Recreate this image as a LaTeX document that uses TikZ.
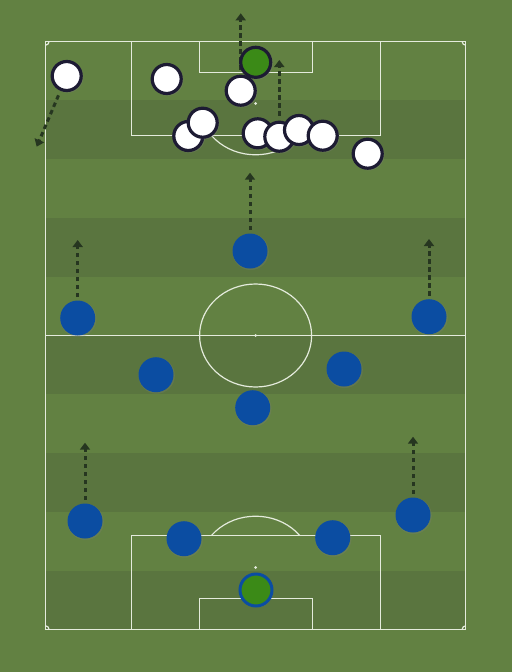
\documentclass[tikz,border=0pt]{standalone}
\usetikzlibrary{arrows.meta,shadows}

\definecolor{grass}{HTML}{628142}
\definecolor{grassdark}{HTML}{5A753F}
\definecolor{chalk}{HTML}{E4EBDC}
\definecolor{runcol}{HTML}{263620}
\definecolor{kitblue}{HTML}{0B4DA2}
\definecolor{kitnavy}{HTML}{1D1B33}
\definecolor{keepergreen}{HTML}{3B8A17}

\pgfdeclarelayer{field}
\pgfdeclarelayer{runs}
\pgfsetlayers{field,runs,main}

\tikzset{
  line/.style={draw=chalk,line width=1.2pt},
  whiteplayer/.style={circle,inner sep=0pt,minimum size=29pt,fill=white,
    draw=kitnavy,line width=3.2pt,
    drop shadow={opacity=0.3,shadow xshift=1pt,shadow yshift=-1pt,shadow scale=1.08}},
  whitekeeper/.style={whiteplayer,minimum size=30pt,fill=keepergreen},
  blueplayer/.style={circle,inner sep=0pt,minimum size=35pt,fill=kitblue,
    drop shadow={opacity=0.25,shadow xshift=0.6pt,shadow yshift=-0.8pt,shadow scale=1.04}},
  bluekeeper/.style={blueplayer,minimum size=32pt,fill=keepergreen,draw=kitblue,line width=3pt},
  run/.style={draw=runcol,line width=3pt,dash pattern=on 4.5pt off 3.5pt,
    shorten <=21pt,-{Triangle[length=7pt,width=10pt]}}
}

\begin{document}
\begin{tikzpicture}[x=1pt,y=-1pt]
  \useasboundingbox (0,0) rectangle (512,672);
  \begin{pgfonlayer}{field}
    % grass and stripes
    \fill[grass] (0,0) rectangle (512,672);
    \foreach \i in {1,3,5,7,9} {
      \fill[grassdark] (45.5,{41.7+\i*58.76}) rectangle (465.7,{41.7+(\i+1)*58.76});
    }
    % touch lines and halfway line
    \draw[line] (45.5,41.7) rectangle (465.7,629.3);
    \draw[line] (45.5,335.5) -- (465.7,335.5);
    \draw[line] (255.6,335.5) ellipse (56 and 51.5);
    \fill[chalk] (255.6,335.5) circle (1.5);
    % corners
    \begin{scope}
      \clip (45.5,41.7) rectangle (465.7,629.3);
      \foreach \cx/\cy in {45.5/41.7,465.7/41.7,45.5/629.3,465.7/629.3} {
        \draw[line] (\cx,\cy) circle (3.5);
      }
    \end{scope}
    % top boxes
    \draw[line] (131.3,41.7) rectangle (380.7,135.3);
    \draw[line] (199.3,41.7) rectangle (312.3,72.7);
    \fill[chalk] (255.6,103.5) circle (1.5);
    \begin{scope}
      \clip (0,135.3) rectangle (512,300);
      \draw[line] (255.6,103.5) ellipse (56.5 and 51.3);
    \end{scope}
    % bottom boxes
    \draw[line] (131.3,535.7) rectangle (380.7,629.3);
    \draw[line] (199.3,598.3) rectangle (312.3,629.3);
    \fill[chalk] (255.6,567.5) circle (1.5);
    \begin{scope}
      \clip (0,400) rectangle (512,535.7);
      \draw[line] (255.6,567.5) ellipse (56.5 and 51.3);
    \end{scope}
  \end{pgfonlayer}

  % white team
  \node[whitekeeper] (wGK) at (255.7,62.3) {};
  \foreach \n/\x/\y in {1/66.7/76,2/166.7/79,3/240.7/90.7,4/188.3/136,5/202.7/122.7,
      6/257.7/133.3,7/279.3/136.7,8/299/130,9/322.7/135.7,10/367.7/153.7} {
    \node[whiteplayer] (w\n) at (\x,\y) {};
  }
  % blue team
  \node[bluekeeper] (bGK) at (256,590) {};
  \foreach \n/\x/\y in {1/250/251,2/77.7/318,3/429/316.7,4/156/374.7,5/344/369,
      6/252.7/407.7,7/85/521,8/184/538.7,9/332.7/537.7,10/413/515} {
    \node[blueplayer] (b\n) at (\x,\y) {};
  }

  % runs
  \coordinate (tA) at (36.7,146.7);
  \coordinate (tB) at (240.7,13.3);
  \coordinate (tC) at (279.3,60);
  \coordinate (tD) at (250,172.7);
  \coordinate (tE) at (77.7,240);
  \coordinate (tF) at (429,239);
  \coordinate (tG) at (85,442.7);
  \coordinate (tH) at (413,436.7);
  \begin{pgfonlayer}{runs}
    \draw[run] (w1.center) -- (tA);
    \draw[run] (w3.center) -- (tB);
    \draw[run] (w7.center) -- (tC);
    \draw[run] (b1.center) -- (tD);
    \draw[run] (b2.center) -- (tE);
    \draw[run] (b3.center) -- (tF);
    \draw[run] (b7.center) -- (tG);
    \draw[run] (b10.center) -- (tH);
  \end{pgfonlayer}
\end{tikzpicture}
\end{document}
